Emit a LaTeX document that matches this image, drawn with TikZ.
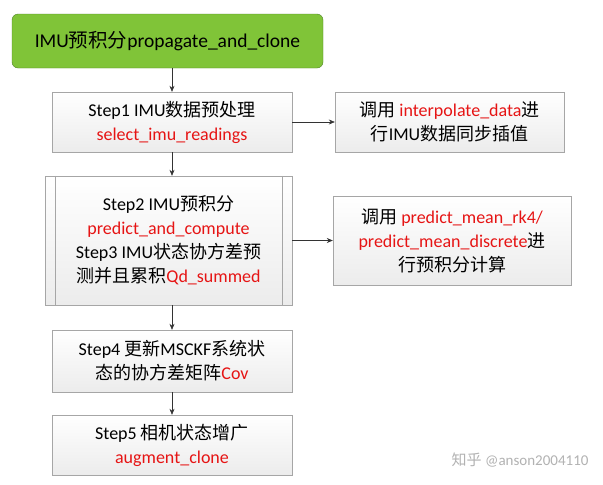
\documentclass[tikz,border=0pt]{standalone}
\usepackage{fontspec}
\setmainfont{Carlito}
\newfontfamily\cjk{Noto Sans CJK SC}
\usetikzlibrary{arrows.meta}
\definecolor{grn}{RGB}{128,196,56}
\definecolor{grnd}{RGB}{80,130,40}
\definecolor{rd}{RGB}{230,20,20}
\newcommand{\zh}[1]{{\cjk #1}}
\newcommand{\rt}[1]{\textcolor{rd}{#1}}
\begin{document}
\begin{tikzpicture}[x=1pt,y=-1pt,
  box/.style={draw=gray!70,fill=gray!8,top color=white,bottom color=gray!15,align=center,font=\fontsize{18}{24}\selectfont,inner sep=0pt},
  arr/.style={-{Stealth[length=6pt,width=5pt]},draw=black!80,line width=0.6pt}]
\useasboundingbox (0,0) rectangle (603,485);
\fill[white] (0,0) rectangle (603,485);
\node[draw=grnd,fill=grn,rounded corners=6pt,minimum width=311,minimum height=54,font=\fontsize{19.5}{22}\selectfont,inner sep=0pt] (top) at (167.5,41) {IMU\zh{预积分}propagate\_and\_clone};
\node[box,minimum width=240,minimum height=60] (s1) at (172,122) {Step1 IMU\zh{数据预处理}\\\rt{select\_imu\_readings}};
\node[box,minimum width=229,minimum height=60] (r1) at (449.5,122) {\zh{调用} \rt{interpolate\_data}\zh{进}\\\zh{行}IMU\zh{数据同步插值}};
\node[box,minimum width=247,minimum height=129] (s2) at (168.5,240.5) {Step2 IMU\zh{预积分}\\\rt{predict\_and\_compute}\\Step3 IMU\zh{状态协方差预}\\\zh{测并且累积}\rt{Qd\_summed}};
\draw[gray!70] ([xshift=10]s2.north west) -- ([xshift=10]s2.south west);
\draw[gray!70] ([xshift=-10]s2.north east) -- ([xshift=-10]s2.south east);
\node[box,minimum width=238,minimum height=89] (r2) at (452,240.5) {\zh{调用} \rt{predict\_mean\_rk4/}\\\rt{predict\_mean\_discrete}\zh{进}\\\zh{行预积分计算}};
\node[box,minimum width=240,minimum height=62] (s4) at (172,361) {Step4 \zh{更新}MSCKF\zh{系统状}\\\zh{态的协方差矩阵}\rt{Cov}};
\node[box,minimum width=240,minimum height=60] (s5) at (172,445) {Step5 \zh{相机状态增广}\\\rt{augment\_clone}};
\draw[arr] (top.south -| s1.north) -- (s1.north);
\draw[arr] (s1.south) -- (s1.south |- s2.north);
\draw[arr] (s1.south |- s2.south) -- (s4.north);
\draw[arr] (s4.south) -- (s5.north);
\draw[arr] (s1.east) -- (r1.west);
\draw[arr] (s2.east) -- (r2.west);
\node[text=gray!60,font=\fontsize{15}{17}\selectfont,anchor=east] (wm) at (592,460) {\zh{知乎} @anson2004110};
\end{tikzpicture}
\end{document}
